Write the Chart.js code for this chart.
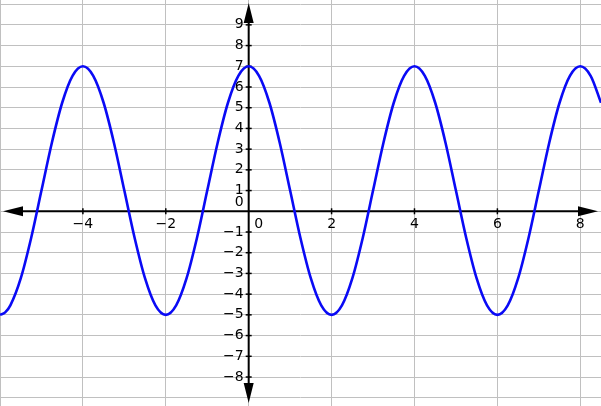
<!DOCTYPE html>
<html>
<head>
<meta charset="utf-8">
<script src="https://cdn.jsdelivr.net/npm/chart.js@4/dist/chart.umd.min.js"></script>
<style>
  html, body { margin: 0; padding: 0; background: #fff; }
  #wrap { width: 601px; height: 406px; position: relative; }
</style>
</head>
<body>
<div id="wrap"><canvas id="graph"></canvas></div>
<script>
const xValues = [
  -6, -5.875, -5.75, -5.5, -5.25, -5, -4.75, -4.5, -4.25, -4, -3.75, -3.5, -3.25, -3, -2.75, -2.5, -2.25,
  -2, -1.75, -1.5, -1.25, -1, -0.75, -0.5, -0.25, 0, 0.25, 0.5, 0.75, 1, 1.25, 1.5, 1.75,
  2, 2.25, 2.5, 2.75, 3, 3.25, 3.5, 3.75, 4, 4.25, 4.5, 4.75, 5, 5.25, 5.5, 5.75,
  6, 6.25, 6.5, 6.75, 7, 7.25, 7.5, 7.75, 8, 8.25, 8.5
];
const yValues = [
  -5, -4.88, -4.54, -3.24, -1.3, 1, 3.3, 5.24, 6.54, 7, 6.54, 5.24, 3.3, 1, -1.3, -3.24, -4.54,
  -5, -4.54, -3.24, -1.3, 1, 3.3, 5.24, 6.54, 7, 6.54, 5.24, 3.3, 1, -1.3, -3.24, -4.54,
  -5, -4.54, -3.24, -1.3, 1, 3.3, 5.24, 6.54, 7, 6.54, 5.24, 3.3, 1, -1.3, -3.24, -4.54,
  -5, -4.54, -3.24, -1.3, 1, 3.3, 5.24, 6.54, 7, 6.54, 5.24
];
const xTickLabels = [-4, -2, 0, 2, 4, 6, 8];
const yTickLabels = [-8, -7, -6, -5, -4, -3, -2, -1, 0, 1, 2, 3, 4, 5, 6, 7, 8, 9];

const fmt = v => (v < 0 ? '\u2212' + Math.abs(v) : String(v));

// draws the cartesian axes with arrows, ticks and numbers through the origin
const axesPlugin = {
  id: 'axes',
  beforeDatasetsDraw(chart) {
    const ctx = chart.ctx;
    const xs = chart.scales.x, ys = chart.scales.y;
    const ox = xs.getPixelForValue(0), oy = ys.getPixelForValue(0);
    const right = chart.width, bottom = chart.height;
    ctx.save();
    ctx.strokeStyle = '#000';
    ctx.fillStyle = '#000';
    ctx.lineWidth = 2;
    ctx.beginPath();
    ctx.moveTo(10, oy); ctx.lineTo(right - 10, oy);
    ctx.moveTo(ox, 10); ctx.lineTo(ox, bottom - 10);
    ctx.stroke();

    const arrow = (tx, ty, dx, dy) => {
      const len = 20, half = 5;
      const bx = tx - dx * len, by = ty - dy * len;
      ctx.beginPath();
      ctx.moveTo(tx, ty);
      ctx.lineTo(bx - dy * half, by + dx * half);
      ctx.lineTo(bx + dy * half, by - dx * half);
      ctx.closePath();
      ctx.fill();
    };
    arrow(3, oy, -1, 0);
    arrow(right - 3, oy, 1, 0);
    arrow(ox, 3, 0, -1);
    arrow(ox, bottom - 3, 0, 1);

    ctx.lineWidth = 1.5;
    ctx.font = '14px "DejaVu Sans"';
    ctx.textBaseline = 'middle';
    yTickLabels.forEach(v => {
      const py = ys.getPixelForValue(v);
      ctx.textAlign = 'right';
      if (v !== 0) {
        ctx.beginPath(); ctx.moveTo(ox - 3, py); ctx.lineTo(ox + 3, py); ctx.stroke();
        ctx.fillText(fmt(v), ox - 5, py);
      } else {
        ctx.fillText('0', ox - 5, py - 9);
      }
    });
    xTickLabels.forEach(v => {
      const px = xs.getPixelForValue(v);
      ctx.textAlign = 'center';
      if (v !== 0) {
        ctx.beginPath(); ctx.moveTo(px, oy - 3); ctx.lineTo(px, oy + 3); ctx.stroke();
        ctx.fillText(fmt(v), px, oy + 13);
      } else {
        ctx.fillText('0', px + 10, oy + 13);
      }
    });
    ctx.restore();
  }
};

new Chart(document.getElementById('graph'), {
  type: 'line',
  data: {
    labels: xValues,
    datasets: [{
      data: xValues.map((x, i) => ({ x: x, y: yValues[i] })),
      borderColor: '#0a0af5',
      borderWidth: 2.6,
      pointRadius: 0,
      cubicInterpolationMode: 'monotone',
      fill: false
    }]
  },
  options: {
    responsive: true,
    maintainAspectRatio: false,
    animation: false,
    layout: { padding: 0 },
    plugins: { legend: { display: false }, tooltip: { enabled: false } },
    scales: {
      x: {
        type: 'linear',
        min: -6, max: 8.5,
        border: { display: false },
        grid: { color: '#c0c0c0', lineWidth: 1, drawTicks: false },
        ticks: { display: false, stepSize: 2, includeBounds: false }
      },
      y: {
        type: 'linear',
        min: -9.4, max: 10.2,
        border: { display: false },
        grid: { color: '#c0c0c0', lineWidth: 1, drawTicks: false },
        ticks: { display: false, stepSize: 1, includeBounds: false }
      }
    }
  },
  plugins: [axesPlugin]
});
</script>
</body>
</html>
